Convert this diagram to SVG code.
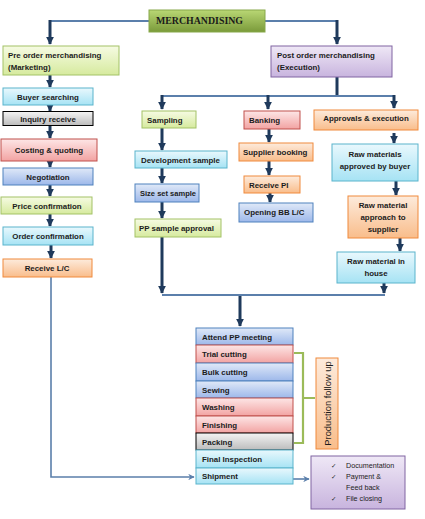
<svg xmlns="http://www.w3.org/2000/svg" width="425" height="519" viewBox="0 0 425 519">
<defs>
<linearGradient id="gM" x1="0" y1="0" x2="0" y2="1"><stop offset="0" stop-color="#b9d774"/><stop offset="1" stop-color="#7a9a3a"/></linearGradient>
<linearGradient id="gY" x1="0" y1="0" x2="0" y2="1"><stop offset="0" stop-color="#f6fbe3"/><stop offset="1" stop-color="#d6ea9e"/></linearGradient>
<linearGradient id="gC" x1="0" y1="0" x2="0" y2="1"><stop offset="0" stop-color="#e9f8fd"/><stop offset="1" stop-color="#a6e3f4"/></linearGradient>
<linearGradient id="gG" x1="0" y1="0" x2="0" y2="1"><stop offset="0" stop-color="#f4f4f4"/><stop offset="1" stop-color="#bcbcbc"/></linearGradient>
<linearGradient id="gR" x1="0" y1="0" x2="0" y2="1"><stop offset="0" stop-color="#fde6e6"/><stop offset="1" stop-color="#f2a3a2"/></linearGradient>
<linearGradient id="gB" x1="0" y1="0" x2="0" y2="1"><stop offset="0" stop-color="#e0e9f8"/><stop offset="1" stop-color="#9db8ea"/></linearGradient>
<linearGradient id="gO" x1="0" y1="0" x2="0" y2="1"><stop offset="0" stop-color="#fdebdc"/><stop offset="1" stop-color="#f9bd8b"/></linearGradient>
<linearGradient id="gL" x1="0" y1="0" x2="0" y2="1"><stop offset="0" stop-color="#efe8f6"/><stop offset="1" stop-color="#c8b4de"/></linearGradient>
<marker id="ah" viewBox="0 0 10 10" refX="9" refY="5" markerWidth="2.6" markerHeight="2.6" orient="auto" markerUnits="strokeWidth"><path d="M0,0 L10,5 L0,10 z" fill="#1f3a5c"/></marker>
<marker id="ahl" viewBox="0 0 10 10" refX="9" refY="5" markerWidth="4" markerHeight="4" orient="auto" markerUnits="strokeWidth"><path d="M0,0 L10,5 L0,10 L3,5 z" fill="#5b7fab"/></marker>
</defs>
<style>
.t{font-family:"Liberation Sans",Arial,sans-serif;font-weight:bold;font-size:7.9px;fill:#1c1c1c}
.n{font-family:"Liberation Sans",Arial,sans-serif;font-size:7.2px;fill:#1c1c1c}
.ck{font-family:"DejaVu Sans",sans-serif;font-size:6.5px;fill:#1c1c1c}
.y{fill:url(#gY);stroke:#a3c267;stroke-width:1}
.c{fill:url(#gC);stroke:#5ab4cc;stroke-width:1}
.g{fill:url(#gG);stroke:#000;stroke-width:1}
.r{fill:url(#gR);stroke:#c0504d;stroke-width:1}
.b{fill:url(#gB);stroke:#4f81bd;stroke-width:1}
.o{fill:url(#gO);stroke:#f08a3c;stroke-width:1}
.l{fill:url(#gL);stroke:#8064a2;stroke-width:1}
.h{stroke:#5b7fab;stroke-width:2;fill:none}
.v{stroke:#1f3a5c;stroke-width:3;fill:none;marker-end:url(#ah)}
.vs{stroke:#1f3a5c;stroke-width:3;fill:none}
.lt{stroke:#5b7fab;stroke-width:1.6;fill:none;marker-end:url(#ahl)}
</style>
<g id="connectors">
<path class="h" d="M50,21 H149 M265,21 H337"/>
<path class="v" d="M50,20 V44"/>
<path class="v" d="M337,20 V44"/>
<path class="v" d="M50,75 V87"/>
<path class="v" d="M50,105 V111"/>
<path class="v" d="M50,125 V138"/>
<path class="v" d="M50,161 V167"/>
<path class="v" d="M50,185 V196"/>
<path class="v" d="M50,214 V226"/>
<path class="v" d="M51,245 V258"/>
<path class="lt" d="M51,277 V477 H194"/>
<path class="vs" d="M337,77 V96"/>
<path class="h" d="M162,96 H394"/>
<path class="v" d="M162,95 V109"/>
<path class="v" d="M268,95 V109"/>
<path class="v" d="M394,95 V108"/>
<path class="v" d="M162,128 V150"/>
<path class="v" d="M162,168 V183"/>
<path class="v" d="M162,202 V218"/>
<path class="v" d="M162,237 V293"/>
<path class="v" d="M269,129 V142"/>
<path class="v" d="M269,161 V175"/>
<path class="v" d="M270,193 V202"/>
<path class="v" d="M394,133 V143"/>
<path class="v" d="M396,181 V195"/>
<path class="v" d="M400,238 V251"/>
<path class="v" d="M384,283 V293"/>
<path class="h" d="M162,295 H385"/>
<path class="v" d="M240,296 V326"/>
<path class="lt" d="M293,479 H309"/>
<path d="M294,353 H303 V443 H294 M303,398 H315" stroke="#9bbb59" stroke-width="2.2" fill="none"/>
</g>
<g id="merchandising">
<rect x="149" y="10" width="116" height="22" fill="url(#gM)" stroke="#87a84a"/>
<text x="156" y="24" font-family="'Liberation Serif','Times New Roman',serif" font-weight="bold" font-size="9.5" fill="#1a1a1a" textLength="87" lengthAdjust="spacingAndGlyphs">MERCHANDISING</text>
</g>
<g id="preorder"><rect class="y" x="3" y="46" width="116" height="29"/><text class="t" x="8" y="58">Pre order merchandising</text><text class="t" x="8" y="70">(Marketing)</text></g>
<g id="postorder"><rect class="l" x="271" y="46" width="121" height="31"/><text class="t" x="277" y="58">Post order merchandising</text><text class="t" x="277" y="70">(Execution)</text></g>
<g id="buyer"><rect class="c" x="3" y="88" width="90" height="17"/><text class="t" x="48" y="99.5" text-anchor="middle">Buyer searching</text></g>
<g id="inquiry"><rect class="g" x="3" y="111.5" width="90" height="14"/><text class="t" x="48" y="121.5" text-anchor="middle">Inquiry receive</text></g>
<g id="costing"><rect class="r" x="1" y="139" width="96" height="22"/><text class="t" x="49" y="152.5" text-anchor="middle">Costing &amp; quoting</text></g>
<g id="negotiation"><rect class="b" x="3" y="168" width="90" height="17"/><text class="t" x="48" y="179.5" text-anchor="middle">Negotiation</text></g>
<g id="price"><rect class="y" x="1" y="197" width="91" height="17"/><text class="t" x="47" y="208.5" text-anchor="middle">Price confirmation</text></g>
<g id="order"><rect class="c" x="3" y="227" width="90" height="18"/><text class="t" x="48" y="239" text-anchor="middle">Order confirmation</text></g>
<g id="receivelc"><rect class="o" x="3" y="259" width="89" height="18"/><text class="t" x="47" y="271" text-anchor="middle">Receive L/C</text></g>
<g id="sampling"><rect class="y" x="142" y="111" width="54" height="17"/><text class="t" x="147" y="122.5">Sampling</text></g>
<g id="devsample"><rect class="c" x="135" y="151" width="92" height="17"/><text class="t" x="141" y="162.5">Development sample</text></g>
<g id="sizeset"><rect class="b" x="135" y="184" width="64" height="18"/><text class="t" x="140" y="195.5" textLength="56" lengthAdjust="spacingAndGlyphs">Size set sample</text></g>
<g id="ppsample"><rect class="y" x="135" y="219" width="86" height="18"/><text class="t" x="139" y="230.5">PP sample approval</text></g>
<g id="banking"><rect class="r" x="244" y="111" width="56" height="18"/><text class="t" x="249" y="122.5">Banking</text></g>
<g id="supplier"><rect class="o" x="239" y="143" width="74" height="18"/><text class="t" x="243" y="154.5">Supplier booking</text></g>
<g id="receivepi"><rect class="o" x="244" y="176" width="56" height="17"/><text class="t" x="249" y="187.5">Receive PI</text></g>
<g id="openingbb"><rect class="b" x="239" y="203" width="74" height="19"/><text class="t" x="244" y="215">Opening BB L/C</text></g>
<g id="approvals"><rect class="o" x="314" y="110" width="104" height="20"/><text class="t" x="366" y="121" text-anchor="middle">Approvals &amp; execution</text></g>
<g id="rawapproved"><rect class="c" x="332" y="144" width="86" height="37"/><text class="t" x="375" y="156.5" text-anchor="middle">Raw materials</text><text class="t" x="375" y="168.5" text-anchor="middle">approved by buyer</text></g>
<g id="rawapproach"><rect class="o" x="348" y="196" width="70" height="42"/><text class="t" x="383" y="208" text-anchor="middle">Raw material</text><text class="t" x="383" y="220" text-anchor="middle">approach to</text><text class="t" x="383" y="232" text-anchor="middle">supplier</text></g>
<g id="rawinhouse"><rect class="c" x="337" y="252" width="78" height="31"/><text class="t" x="376" y="264" text-anchor="middle">Raw material in</text><text class="t" x="376" y="276" text-anchor="middle">house</text></g>
<g id="attendpp"><rect class="b" x="196" y="328" width="97" height="17"/><text class="t" x="202" y="339.5">Attend PP meeting</text></g>
<g id="trialcutting"><rect class="r" x="196" y="345" width="97" height="18"/><text class="t" x="202" y="357">Trial cutting</text></g>
<g id="bulkcutting"><rect class="b" x="196" y="363" width="97" height="18"/><text class="t" x="202" y="375">Bulk cutting</text></g>
<g id="sewing"><rect class="b" x="196" y="381" width="97" height="17"/><text class="t" x="202" y="392.5">Sewing</text></g>
<g id="washing"><rect class="r" x="196" y="398" width="97" height="18"/><text class="t" x="202" y="410">Washing</text></g>
<g id="finishing"><rect class="r" x="196" y="416" width="97" height="17"/><text class="t" x="202" y="427.5">Finishing</text></g>
<g id="packing"><rect class="g" x="196" y="433" width="97" height="17"/><text class="t" x="202" y="444.5">Packing</text></g>
<g id="finalinspection"><rect class="c" x="196" y="450" width="97" height="18"/><text class="t" x="202" y="462">Final Inspection</text></g>
<g id="shipment"><rect class="c" x="196" y="468" width="97" height="16"/><text class="t" x="202" y="479">Shipment</text></g>
<g id="productionfollowup"><rect class="o" x="316" y="358" width="22" height="91"/><text class="n" x="0" y="0" transform="translate(330.5,403.5) rotate(-90)" text-anchor="middle" style="font-size:9.4px">Production follow up</text></g>
<g id="closing"><rect class="l" x="311" y="456" width="94" height="53"/>
<text class="ck" x="331" y="468">✓</text><text class="n" x="346" y="468">Documentation</text>
<text class="ck" x="331" y="479">✓</text><text class="n" x="346" y="479">Payment &amp;</text>
<text class="n" x="346" y="490">Feed back</text>
<text class="ck" x="331" y="501">✓</text><text class="n" x="346" y="501">File closing</text></g>
</svg>
